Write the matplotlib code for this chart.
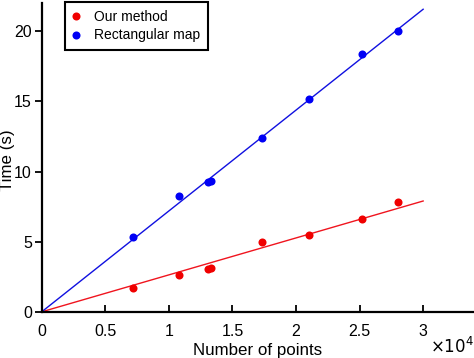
import matplotlib
matplotlib.use("Agg")
import matplotlib.pyplot as plt
import numpy as np

plt.rcParams['font.family'] = ['Liberation Sans', 'DejaVu Sans']

# number of points for each test case
n_points = [7200, 10800, 13100, 13300, 17300, 21000, 25200, 28000]
t_ours = [1.7, 2.6, 3.05, 3.15, 4.95, 5.45, 6.65, 7.8]
t_rect = [5.3, 8.23, 9.27, 9.33, 12.36, 15.2, 18.4, 20.05]

# linear fits (through origin), read at the line ends
fit_x = [0, 30000]
fit_ours = [0, 7.9]
fit_rect = [0, 21.57]

fig = plt.figure(figsize=(4.74, 3.58), dpi=100)
ax = fig.add_axes([0.088, 0.129, 0.912, 0.862])

x = np.array(n_points) / 1e4
fx = np.array(fit_x) / 1e4

ax.plot(fx, fit_ours, color='#f0141e', lw=1.0)
ax.plot(fx, fit_rect, color='#1010e0', lw=1.0)
ax.plot(x, t_ours, 'o', color='#f00000', ms=5.8, mec='none', label='Our method')
ax.plot(x, t_rect, 'o', color='#0000f5', ms=5.8, mec='none', label='Rectangular map')

ax.set_xlim(0, 3.4)
ax.set_ylim(0, 22)
ax.set_xticks([0, 0.5, 1, 1.5, 2, 2.5, 3])
ax.set_xticklabels(['0', '0.5', '1', '1.5', '2', '2.5', '3'])
ax.set_yticks([0, 5, 10, 15, 20])

for s in ['top', 'right']:
    ax.spines[s].set_visible(False)
for s in ['left', 'bottom']:
    ax.spines[s].set_linewidth(1.6)

ax.tick_params(axis='x', direction='in', length=5, width=1.3, labelsize=11.5, pad=9)
ax.tick_params(axis='y', direction='out', length=5, width=1.3, labelsize=11.5, pad=2)

ax.set_xlabel('Number of points', fontsize=12.2, labelpad=3)
ax.set_ylabel('Time (s)', fontsize=12.2)
ax.yaxis.set_label_coords(-0.061, 0.49)
fig.text(1.0, 0.005, r'$\times10^4$', ha='right', va='bottom', fontsize=12)

leg = ax.legend(loc='upper left', bbox_to_anchor=(0.053, 1.004), fontsize=10,
                handlelength=0.6, handletextpad=1.0, borderpad=0.55,
                borderaxespad=0, labelspacing=0.35, fancybox=False, framealpha=1)
leg.get_frame().set_edgecolor('black')
leg.get_frame().set_linewidth(1.5)

fig.savefig('out.png', dpi=100)
